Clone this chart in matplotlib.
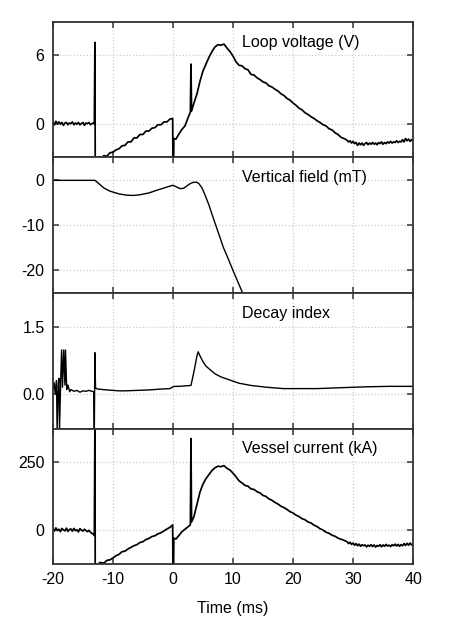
import numpy as np
import matplotlib
matplotlib.use('Agg')
import matplotlib.pyplot as plt

plt.rcParams['font.family'] = ['Liberation Sans', 'DejaVu Sans']
plt.rcParams['font.size'] = 11.5
plt.rcParams['axes.unicode_minus'] = False

# loop voltage (V): flat pre-trigger part, sampled every 0.25 ms from -20
loop_pre = [0.1, -0.1, 0.2, 0.0, 0.15, -0.05, 0.1, -0.15, 0.05, 0.1, -0.1, 0.05, 0.0, 0.15,
            -0.1, 0.05, -0.05, 0.1, -0.1, 0.0, 0.1, -0.15, 0.05, 0.0, 0.1, -0.1, 0.0, 0.05]
t_loop_mid = [-13.1, -13.0, -12.95, -11.8,
              -11.7, -11.5, -11, -10.5, -10, -9.5, -9, -8.5, -8, -7.5, -7, -6.5, -6, -5.5, -5, -4.5, -4,
              -3.5, -3, -2.5, -2, -1.5, -1, -0.5, -0.05, 0.0, 0.1,
              0.15, 0.5, 1, 1.5, 2, 2.5, 2.9, 3.0, 3.1, 3.5, 4, 4.5, 5, 5.5, 6, 6.5, 7, 7.5, 8, 8.5,
              9, 9.5, 10, 10.5, 11, 11.5, 12, 12.5, 13, 13.5, 14, 14.5, 15, 15.5, 16, 16.5, 17, 17.5, 18,
              18.5, 19, 19.5, 20, 20.5, 21, 21.5, 22, 22.5, 23, 23.5, 24, 24.5, 25, 25.5, 26, 26.5, 27,
              27.5, 28, 28.5]
v_loop_mid = [0.0, 7.1, -3.5, -3.5,
              -2.9, -2.8, -2.85, -2.55, -2.5, -2.3, -2.2, -1.95, -1.9, -1.6, -1.6, -1.25, -1.25, -0.95, -0.95, -0.65, -0.65,
              -0.4, -0.35, -0.1, -0.1, 0.15, 0.15, 0.4, 0.45, -3.5, -3.5,
              -1.3, -1.35, -0.9, -0.5, -0.2, 0.5, 1.0, 5.2, 1.1, 1.8, 2.6, 3.7, 4.6, 5.2, 5.8, 6.3, 6.7, 6.9, 6.85, 6.95,
              6.6, 6.3, 5.9, 5.4, 5.1, 5.05, 4.8, 4.7, 4.3, 4.25, 4.0, 3.85, 3.65, 3.55, 3.3, 3.2, 3.0, 2.85, 2.6,
              2.45, 2.2, 2.05, 1.8, 1.6, 1.35, 1.2, 0.95, 0.8, 0.6, 0.45, 0.25, 0.1, -0.1, -0.2, -0.45, -0.55, -0.8,
              -0.95, -1.2, -1.3]
# tail, sampled every 0.25 ms from 29 to 40
loop_tail = [-1.45, -1.6, -1.5, -1.7, -1.55, -1.75, -1.65, -1.9, -1.7, -1.85, -1.7, -1.9, -1.75, -1.65,
             -1.85, -1.7, -1.8, -1.65, -1.8, -1.7, -1.85, -1.65, -1.75, -1.6, -1.8, -1.65, -1.75, -1.6,
             -1.7, -1.55, -1.7, -1.6, -1.65, -1.5, -1.65, -1.55, -1.6, -1.4, -1.6, -1.3, -1.5, -1.35,
             -1.55, -1.4, -1.5]

# vertical field (mT)
t_vf = [-20, -13, -12.8, -12.2, -11.5, -10.5, -9, -7.7, -6.5, -5.5, -4, -2.7, -1.5, -0.3, 0, 0.5, 1.2,
        1.8, 2.3, 2.9, 3.4, 3.9, 4.3, 4.8, 5.3, 6, 6.7, 7.5, 8.4, 9.2, 10, 10.8, 11.6, 12.4]
v_vf = [0, 0, -0.2, -0.9, -1.7, -2.4, -3.0, -3.3, -3.35, -3.2, -2.8, -2.2, -1.7, -1.2, -1.1, -1.4, -1.85,
        -1.75, -1.25, -0.7, -0.45, -0.4, -0.7, -1.6, -3.1, -5.5, -8.3, -11.4, -14.9, -17.4, -20, -22.5, -25, -27.5]

# decay index
t_di = [-20, -19.8, -19.6, -19.4, -19.3, -19.1, -19.0, -18.9, -18.7, -18.55, -18.4, -18.2, -18.0, -17.9,
        -17.7, -17.5, -17.2, -17, -16.5, -16, -15.5, -15, -14.5, -14, -13.5, -13.2, -13.1, -13.0, -12.95,
        -12.9, -12.8, -12.5, -11, -9, -8, -6, -4, -2, -0.5, 0, 0.3, 1, 2, 3.0, 3.5, 4.0, 4.2, 4.5, 5,
        5.5, 6.2, 7, 8, 9.5, 11, 13, 15.6, 18.4, 24, 28, 32.3, 36, 40]
v_di = [0.1, 0.25, 0.0, 0.3, -0.8, 0.2, 0.35, -0.8, 0.3, 0.98, 0.15, 0.98, 0.2, 0.98, 0.1, 0.2, 0.05,
        0.1, 0.06, 0.08, 0.04, 0.07, 0.06, 0.08, 0.06, 0.05, -0.8, 0.92, 0.5, 0.15, 0.12, 0.11, 0.09,
        0.07, 0.07, 0.08, 0.09, 0.11, 0.12, 0.16, 0.17, 0.17, 0.18, 0.19, 0.5, 0.85, 0.94, 0.85, 0.72,
        0.62, 0.54, 0.45, 0.38, 0.31, 0.24, 0.19, 0.15, 0.12, 0.12, 0.14, 0.16, 0.17, 0.17]

# vessel current (kA): pre-trigger part every 0.25 ms from -20
vc_pre = [5, -4, 8, -2, 3, -6, 6, 0, -3, 7, -5, 2, 4, -4, 6, -2, 1, -7, 5, 0, -4, 3, -2, -6, -1, -8, -12, -16]
t_vc_mid = [-13.1, -13.0, -12.95, -12.5, -12.2, -11.5, -11, -10.5, -10, -9.5, -9, -8.5, -8, -7.5, -7, -6.5, -6,
            -5.5, -5, -4.5, -4, -3.5, -3, -2.5, -2, -1.5, -1, -0.5, -0.05, 0.0, 0.1,
            0.15, 0.5, 1, 1.5, 2, 2.5, 2.9, 3.0, 3.1, 3.5, 4, 4.5, 5, 5.5, 6, 6.5, 7, 7.5, 8, 8.5, 9,
            9.5, 10, 10.5, 11, 11.5, 12, 12.5, 13, 13.5, 14, 14.5, 15, 15.5, 16, 16.5, 17, 17.5, 18, 18.5,
            19, 19.5, 20, 20.5, 21, 21.5, 22, 22.5, 23, 23.5, 24, 24.5, 25, 25.5, 26, 26.5, 27, 27.5, 28, 28.5]
v_vc_mid = [-20, 400, -140, -128, -120, -122, -112, -110, -103, -95, -90, -80, -78, -70, -64, -58, -54,
            -46, -43, -35, -31, -24, -21, -14, -10, -3, 4, 10, 19, -140, -140,
            -30, -33, -20, -6, 3, 12, 19, 338, 30, 50, 95, 140, 170, 190, 205, 220, 230, 236, 234, 238, 228,
            222, 210, 197, 182, 174, 165, 162, 152, 150, 142, 137, 128, 124, 115, 110, 102, 96, 88, 83,
            76, 68, 63, 55, 50, 42, 38, 30, 26, 18, 13, 5, 0, -8, -12, -19, -23, -30, -34, -38]
# tail every 0.25 ms from 29 to 40
vc_tail = [-43, -50, -45, -53, -48, -56, -50, -58, -52, -60, -54, -58, -55, -62, -56, -60, -54, -61, -55, -63,
           -57, -60, -54, -62, -55, -60, -53, -59, -56, -61, -54, -58, -52, -59, -53, -60, -54, -58, -50, -57,
           -49, -56, -48, -55, -51]

t_pre = np.arange(len(loop_pre)) * 0.25 - 20
t_tail = np.arange(len(loop_tail)) * 0.25 + 29

t_loop = np.concatenate([t_pre, t_loop_mid, t_tail])
v_loop = np.concatenate([loop_pre, v_loop_mid, loop_tail])
t_vc = np.concatenate([t_pre, t_vc_mid, t_tail])
v_vc = np.concatenate([vc_pre, v_vc_mid, vc_tail])

series = [(t_loop, v_loop), (t_vf, v_vf), (t_di, v_di), (t_vc, v_vc)]
titles = ['Loop voltage (V)', 'Vertical field (mT)', 'Decay index', 'Vessel current (kA)']
ylims = [(-2.95, 8.9), (-25.0, 5.1), (-0.77, 2.25), (-126, 375)]
yticks = [[0, 6], [-20, -10, 0], [0.0, 1.5], [0, 250]]
yticklabels = [['0', '6'], ['-20', '-10', '0'], ['0.0', '1.5'], ['0', '250']]
widths = [1.25, 1.0, 1.0, 1.25]

fig, axs = plt.subplots(nrows=4, ncols=1, sharex=True, figsize=(4.6, 6.22), dpi=100)
fig.subplots_adjust(left=0.115, right=0.898, top=0.965, bottom=0.093, hspace=0)

for k in range(4):
    ax = axs[k]
    t, v = series[k]
    ax.plot(t, v, color='black', lw=widths[k])
    ax.set_xlim(-20, 40)
    ax.set_ylim(*ylims[k])
    ax.set_yticks(yticks[k])
    ax.set_yticklabels(yticklabels[k])
    ax.set_xticks([-20, -10, 0, 10, 20, 30, 40])
    ax.grid(True, linestyle=':', color='#cccccc', lw=0.9)
    ax.tick_params(direction='in', length=4, width=1.1, top=True, right=True,
                   pad=6, color='#333333', labelsize=11.5)
    for s in ax.spines.values():
        s.set_color('#333333')
        s.set_linewidth(1.3)
    ax.text(0.525, 0.85, titles[k], transform=ax.transAxes, ha='left', va='center', fontsize=11.5)

axs[3].set_xticklabels(['-20', '-10', '0', '10', '20', '30', '40'])
axs[3].set_xlabel('Time (ms)', fontsize=11.5, labelpad=10)

plt.savefig('out.png', dpi=100)
